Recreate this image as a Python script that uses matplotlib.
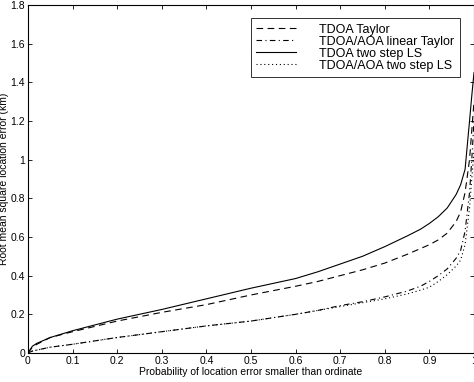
import matplotlib.pyplot as plt

# Probability axis samples
prob = [0, 0.01, 0.02, 0.05, 0.1, 0.2, 0.3, 0.4, 0.5, 0.6, 0.65, 0.7, 0.75,
        0.8, 0.85, 0.88, 0.9, 0.92, 0.94, 0.96, 0.97, 0.98, 0.99, 0.995, 1.0]

# RMS location error (km) for each method
tdoa_taylor = [0, 0.03, 0.045, 0.08, 0.11, 0.165, 0.21, 0.25, 0.3, 0.345,
               0.37, 0.4, 0.43, 0.465, 0.51, 0.54, 0.56, 0.585, 0.62, 0.68,
               0.73, 0.83, 1.0, 1.15, 1.3]
tdoa_aoa_lin_taylor = [0, 0.01, 0.015, 0.03, 0.045, 0.08, 0.11, 0.14, 0.165,
                       0.2, 0.22, 0.245, 0.265, 0.29, 0.32, 0.345, 0.37,
                       0.4, 0.435, 0.49, 0.53, 0.63, 0.83, 1.0, 1.2]
tdoa_two_step = [0, 0.035, 0.05, 0.08, 0.115, 0.175, 0.225, 0.28, 0.335,
                 0.385, 0.42, 0.46, 0.5, 0.55, 0.605, 0.64, 0.67, 0.705,
                 0.75, 0.82, 0.87, 0.95, 1.2, 1.33, 1.45]
tdoa_aoa_two_step = [0, 0.01, 0.015, 0.03, 0.045, 0.08, 0.11, 0.14, 0.165,
                     0.2, 0.22, 0.24, 0.26, 0.28, 0.305, 0.325, 0.34,
                     0.37, 0.405, 0.45, 0.48, 0.56, 0.75, 0.9, 1.05]

labels = ["TDOA Taylor", "TDOA/AOA linear Taylor", "TDOA two step LS",
          "TDOA/AOA two step LS"]

plt.rcParams["font.family"] = ["Liberation Sans", "DejaVu Sans"]

fig = plt.figure(figsize=(4.74, 3.82), dpi=100)
ax = fig.add_axes([0.059, 0.076, 0.941, 0.911])

lw = 0.8
ax.plot(prob, tdoa_taylor, color="black", lw=lw, dashes=(6, 4), label=labels[0])
ax.plot(prob, tdoa_aoa_lin_taylor, color="black", lw=lw,
        dashes=(5, 3, 1, 3), label=labels[1])
ax.plot(prob, tdoa_two_step, color="black", lw=lw, label=labels[2])
ax.plot(prob, tdoa_aoa_two_step, color="black", lw=lw, dashes=(1, 2.5),
        label=labels[3])

ax.set_xlim(0, 1)
ax.set_ylim(0, 1.8)
ax.set_xticks([i / 10 for i in range(11)])
ax.set_xticklabels(["0", "0.1", "0.2", "0.3", "0.4", "0.5", "0.6", "0.7",
                    "0.8", "0.9", "1"])
ax.set_yticks([i * 0.2 for i in range(10)])
ax.set_yticklabels(["0", "0.2", "0.4", "0.6", "0.8", "1", "1.2", "1.4",
                    "1.6", "1.8"])
ax.tick_params(direction="in", top=True, right=True, length=3, width=0.6,
               labelsize=7.5, pad=2)
for s in ax.spines.values():
    s.set_linewidth(0.8)

ax.set_xlabel("Probability of location error smaller than ordinate",
              fontsize=7.5, labelpad=1)
ax.set_ylabel("Root mean square location error (km)", fontsize=7.5,
              labelpad=1)

leg = ax.legend(loc="upper right", bbox_to_anchor=(0.982, 0.98), fontsize=9,
                frameon=True, fancybox=False, edgecolor="black",
                handlelength=3.2, handletextpad=1.8, labelspacing=0.0,
                borderpad=0.45)
leg.get_frame().set_linewidth(0.7)

fig.savefig("out.png", dpi=100)
